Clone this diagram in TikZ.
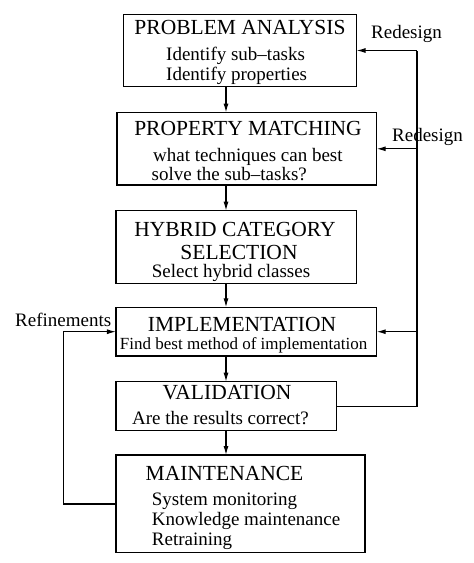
\documentclass[tikz,border=0pt]{standalone}
\usepackage{fontspec}
\setmainfont{Liberation Serif}
\usetikzlibrary{arrows.meta}
\newcommand{\tfont}{\fontsize{21.5}{24}\selectfont}
\newcommand{\sfont}{\fontsize{19}{22}\selectfont}
\newcommand{\ffont}{\fontsize{17}{20}\selectfont}
\tikzset{
  box/.style={draw, line width=1.2pt, rectangle, inner sep=0pt, outer sep=0pt},
  ttl/.style={anchor=base, inner sep=0pt, font=\tfont},
  sub/.style={anchor=base, inner sep=0pt, font=\sfont},
  subl/.style={anchor=base west, inner sep=0pt, font=\sfont},
  lab/.style={anchor=base west, inner sep=0pt, font=\sfont},
  line/.style={line width=1.2pt},
  arr/.style={line width=1.2pt, -{Latex[length=9pt,width=5pt]}}
}
\begin{document}
\begin{tikzpicture}[x=1pt,y=-1pt]
\useasboundingbox (0,0) rectangle (474,563);
% boxes
\node[box, minimum width=233pt, minimum height=72.5pt] (pa) at (240,50.5) {};
\node[box, minimum width=259.7pt, minimum height=72.5pt] (pm) at (246.8,148.8) {};
\node[box, minimum width=240.7pt, minimum height=72.6pt] (hcs) at (236.3,247) {};
\node[box, minimum width=260.7pt, minimum height=48.7pt] (impl) at (246.3,331.7) {};
\node[box, minimum width=220.7pt, minimum height=49pt] (val) at (226.3,406.2) {};
\node[box, minimum width=249pt, minimum height=97.7pt] (maint) at (240.5,503.9) {};
% texts
\node[ttl] (pat) at (240,34.3) {PROBLEM ANALYSIS};
\node[subl] (pa1) at (166,60) {Identify sub–tasks};
\node[subl] (pa2) at (166,80) {Identify properties};
\node[ttl] (pmt) at (248,135) {PROPERTY MATCHING};
\node[subl] (pm1) at (153,161.7) {what techniques can best};
\node[subl] (pm2) at (151.5,180) {solve the sub–tasks?};
\node[ttl] (hcst) at (235,236) {HYBRID CATEGORY};
\node[ttl] (hcst2) at (239,259.3) {SELECTION};
\node[sub] (hcs1) at (231,277.3) {Select hybrid classes};
\node[ttl] (implt) at (242,331.7) {IMPLEMENTATION};
\node[anchor=base, inner sep=0pt, font=\ffont] (impl1) at (243.7,349.3) {Find best method of implementation};
\node[ttl] (valt) at (227,399.3) {VALIDATION};
\node[sub] (val1) at (220.5,424.3) {Are the results correct?};
\node[ttl] (maintt) at (224.5,480) {MAINTENANCE};
\node[subl] (m1) at (151.7,505) {System monitoring};
\node[subl] (m2) at (151.7,525) {Knowledge maintenance};
\node[subl] (m3) at (151.7,545) {Retraining};
% labels
\node[lab] (rd1) at (371,38) {Redesign};
\node[lab] (rd2) at (392,141.7) {Redesign};
\node[lab] (ref) at (15,326) {Refinements};
% helper coordinates
\coordinate (spine) at (226,0);
\coordinate (rx) at (417,0);
\coordinate (lx) at (63.3,0);
% main flow
\draw[arr] (pa.south -| spine) -- (pm.north -| spine);
\draw[arr] (pm.south -| spine) -- (hcs.north -| spine);
\draw[arr] (hcs.south -| spine) -- (impl.north -| spine);
\draw[arr] (impl.south -| spine) -- (val.north -| spine);
\draw[arr] (val.south -| spine) -- (maint.north -| spine);
% redesign loop
\draw[line] (val.east) -| (rx |- pa.east);
\draw[arr] (rx |- pa.east) -- (pa.east);
\draw[arr] (rx |- pm.east) -- (pm.east);
\draw[arr] (rx |- impl.east) -- (impl.east);
% refinement loop
\draw[arr] (maint.west) -| (lx |- impl.west) -- (impl.west);
\end{tikzpicture}
\end{document}
